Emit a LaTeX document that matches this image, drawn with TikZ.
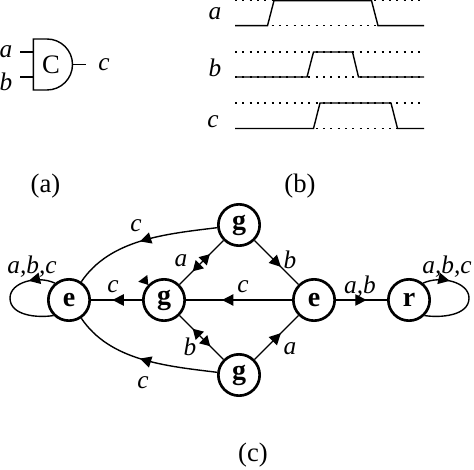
\documentclass[tikz,border=0pt]{standalone}
\usepackage{fontspec}
\setmainfont{Liberation Serif}
\usetikzlibrary{arrows.meta,decorations.markings}
\tikzset{
  st/.style={circle,draw,line width=2pt,minimum size=31pt,inner sep=0pt,font=\fontsize{21}{21}\selectfont\bfseries,fill=white},
  lb/.style={font=\fontsize{19}{19}\selectfont\itshape,inner sep=0pt},
  captxt/.style={font=\fontsize{20}{20}\selectfont,inner sep=0pt},
  ed/.style={line width=1.05pt},
  mk/.style={postaction={decorate},decoration={markings,mark=at position #1 with {\arrow{Triangle[length=8.5pt,width=8.5pt]}}}},
  mkk/.style 2 args={postaction={decorate},decoration={markings,mark=at position #1 with {\arrow{Triangle[length=7.5pt,width=8.5pt]}},mark=at position #2 with {\arrowreversed{Triangle[length=7.5pt,width=8.5pt]}}}},
  wave/.style={line width=1.05pt},
  dots/.style={line width=.8pt,dash pattern=on 1.5pt off 4pt},
}
\begin{document}
\begin{tikzpicture}[x=.75pt,y=-.75pt]
\useasboundingbox (0,0) rectangle (474,470);
\clip (0,0) rectangle (474,470);
% gate
\node[inner sep=0pt,font=\fontsize{20}{20}\selectfont] (C) at (51,64.5) {C};
\draw[ed] (33.3,39) -- (47,39) arc[start angle=90,end angle=-90,radius=25.5*.75pt] -- (33.3,90) -- cycle;
\coordinate (gi1) at (33.3,52); \coordinate (gi2) at (33.3,77); \coordinate (go) at (72.5,64.5);
\coordinate (wa) at (20,52); \coordinate (wb) at (20,77); \coordinate (wc) at (86,64.5);
\draw[ed] (wa) -- (gi1); \draw[ed] (wb) -- (gi2); \draw[ed] (go) -- (wc);
\node[lb] (la) at (6,52) {a};
\node[lb] (lb1) at (6,82) {b};
\node[lb] (lc) at (104,65) {c};
% waves
\node[lb] (wla) at (215,14) {a};
\node[lb] (wlb) at (215,68) {b};
\node[lb] (wlc) at (213,122) {c};
\draw[dots] (235,.6) -- (424,.6); \draw[dots] (235,25.7) -- (424,25.7);
\draw[dots] (235,52) -- (424,52); \draw[dots] (235,77) -- (424,77);
\draw[dots] (235,103) -- (424,103); \draw[dots] (235,128.5) -- (424,128.5);
\draw[wave] (235,25.7) -- (267.5,25.7) -- (274,.6) -- (371.5,.6) -- (378,25.7) -- (424,25.7);
\draw[wave] (235,77) -- (307,77) -- (313.5,52) -- (352.5,52) -- (358.5,77) -- (424,77);
\draw[wave] (235,128.5) -- (313.5,128.5) -- (320,103) -- (391,103) -- (397.5,128.5) -- (424,128.5);
% captions
\node[captxt] (ca) at (45.5,186) {(a)};
\node[captxt] (cb) at (300,186) {(b)};
\node[captxt] (cc) at (253,455) {(c)};
% states
\node[st] (e1) at (69,300) {e};
\node[st] (g0) at (164,300) {g};
\node[st] (gt) at (239,225) {g};
\node[st] (gb) at (239,375) {g};
\node[st] (e2) at (314,300) {e};
\node[st] (r) at (409,300) {r};
% edges
\draw[ed,mk=.52] (gt) to[out=187,in=56,looseness=.9] (e1);
\node[lb] (lc1) at (136,226) {c};
\draw[ed,mk=.52] (gb) to[out=173,in=-56,looseness=.9] (e1);
\node[lb] (lc2) at (143,383) {c};
\draw[ed,mk=.58] (g0) -- (e1);
\node[lb] (lc3) at (113,287) {c};
\draw[ed,mk=.66] (e2) -- (g0);
\node[lb] (lc4) at (243,287) {c};
\draw[ed,mk=.6] (gt) -- (e2);
\node[lb] (lb2) at (290,260) {b};
\draw[ed,mk=.6] (gb) -- (e2);
\node[lb] (la2) at (290,349) {a};
\draw[ed,mk=.6] (e2) -- (r);
\node[lb] (lab) at (360,287) {a,b};
% g0 - gt, g0 - gb double arrows
\draw[ed,mkk={.69}{.30}] (g0) -- (gt);
\node[lb] (la3) at (181,261) {a};
\draw[ed,mkk={.70}{.30}] (g0) -- (gb);
\node[lb] (lb3) at (190,347) {b};
\fill (147.3,275) -- (138.3,281.7) -- (148.3,285) -- cycle;
% loops
\draw[ed,mk=.25] (e1.130) .. controls (38,275) and (10,282) .. (10,298) .. controls (10,316) and (38,318) .. (e1.225);
\node[lb] (l1) at (32,267) {a,b,c};
\draw[ed,mk=.25] (r.50) .. controls (440,275) and (469,282) .. (469,298) .. controls (469,316) and (440,318) .. (r.-45);
\node[lb] (l2) at (447,267) {a,b,c};
\end{tikzpicture}
\end{document}
